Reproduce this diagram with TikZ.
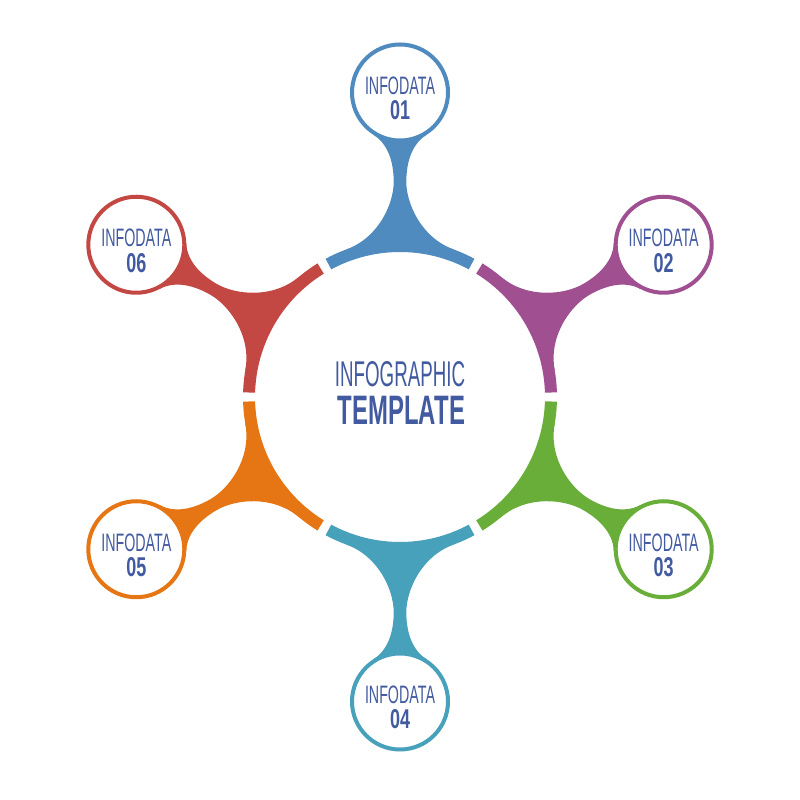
\documentclass[tikz,border=0pt]{standalone}
\usepackage{fontspec}
\setmainfont{Liberation Sans}
\definecolor{c1}{RGB}{79,139,190}
\definecolor{c2}{RGB}{160,80,145}
\definecolor{c3}{RGB}{106,174,58}
\definecolor{c4}{RGB}{72,161,187}
\definecolor{c5}{RGB}{230,118,20}
\definecolor{c6}{RGB}{195,72,68}
\definecolor{txt}{RGB}{66,90,160}
\tikzset{
  sat/.style={circle, draw=#1, fill=white, line width=4pt, minimum size=96pt, inner sep=0pt},
  lab/.style={anchor=base, inner sep=0pt, text=txt},
}
\newcommand{\petalshape}[1]{%
  \fill[#1] (-28.3:157) arc[start angle=-28.3,end angle=28.3,radius=157pt]
    -- (28.3:145) arc[start angle=28.3,end angle=-28.3,radius=145pt] -- cycle;
  \fill[#1] (20:157) .. controls (159.5,20.8) and (194,6.3) .. (215,6.3)
    .. controls (230,6.3) and (251.5,9.5) .. (262.1,26.5)
    -- (262.1,-26.5) .. controls (251.5,-9.5) and (230,-6.3) .. (215,-6.3)
    .. controls (194,-6.3) and (159.5,-20.8) .. (-20:157)
    -- (-20:150) arc[start angle=-20,end angle=20,radius=150pt] -- cycle;
}
\begin{document}
\begin{tikzpicture}[x=1pt,y=1pt]
\useasboundingbox (0,0) rectangle (800,800);
\fill[white] (0,0) rectangle (800,800);
\foreach \a/\c in {90/c1,30/c2,-30/c3,-90/c4,-150/c5,150/c6}{
  \begin{scope}[shift={(400,403)},rotate=\a]
    \petalshape{\c}
  \end{scope}
}
\node[sat=c1] (s1) at (400,707.5) {};
\node[sat=c2] (s2) at (663.7,555.25) {};
\node[sat=c3] (s3) at (663.7,250.75) {};
\node[sat=c4] (s4) at (400,98.5) {};
\node[sat=c5] (s5) at (136.3,250.75) {};
\node[sat=c6] (s6) at (136.3,555.25) {};
\foreach \i in {1,...,6}{
  \node[lab] (ta\i) at ([yshift=-1.8pt]s\i.center) {\resizebox{70pt}{17.6pt}{INFODATA}};
  \node[lab] (tb\i) at ([yshift=-27.5pt]s\i.center) {\resizebox{20pt}{19pt}{\bfseries 0\i}};
}
\node[lab] (title) at (400,413.3) {\resizebox{130pt}{25pt}{INFOGRAPHIC}};
\node[lab] (sub) at (401.5,375) {\resizebox{127pt}{28.3pt}{\bfseries TEMPLATE}};
\end{tikzpicture}
\end{document}
